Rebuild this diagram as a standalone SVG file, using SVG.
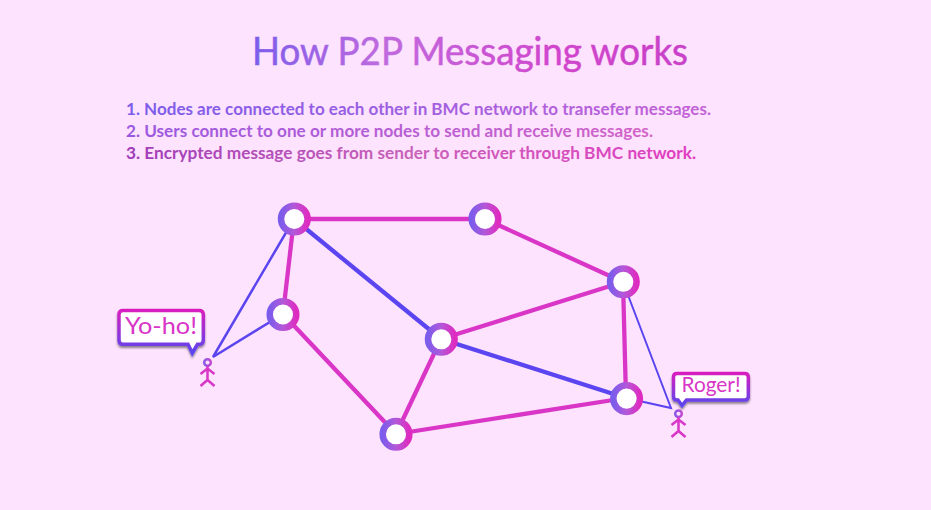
<svg xmlns="http://www.w3.org/2000/svg" width="931" height="510" viewBox="0 0 931 510">
<defs>
<linearGradient id="tg" x1="0" y1="0" x2="1" y2="0"><stop offset="0" stop-color="#7c5ceb"/><stop offset="0.3" stop-color="#c06ade"/><stop offset="0.7" stop-color="#d045cc"/><stop offset="1" stop-color="#c840c8"/></linearGradient>
<linearGradient id="l1" x1="0" y1="0" x2="1" y2="0"><stop offset="0" stop-color="#7c5ceb"/><stop offset="1" stop-color="#c462d6"/></linearGradient>
<linearGradient id="l2" x1="0" y1="0" x2="1" y2="0"><stop offset="0" stop-color="#9a58e0"/><stop offset="1" stop-color="#d264c8"/></linearGradient>
<linearGradient id="l3" x1="0" y1="0" x2="1" y2="0"><stop offset="0" stop-color="#a03cb8"/><stop offset="0.5" stop-color="#c862b8"/><stop offset="1" stop-color="#e03cc0"/></linearGradient>
<linearGradient id="ng"><stop offset="0" stop-color="#7c5ceb"/><stop offset="0.5" stop-color="#b358d8"/><stop offset="1" stop-color="#de2cc0"/></linearGradient>
<linearGradient id="bg" x1="0" y1="0" x2="0" y2="1"><stop offset="0" stop-color="#d81fc0"/><stop offset="1" stop-color="#5a45f0"/></linearGradient>
<linearGradient id="pg" x1="0" y1="0" x2="1" y2="0"><stop offset="0" stop-color="#8a5ae8"/><stop offset="1" stop-color="#c04ad0"/></linearGradient>
<filter id="sh" x="-20%" y="-20%" width="140%" height="150%"><feDropShadow dx="0" dy="2" stdDeviation="1.2" flood-color="#000" flood-opacity="0.45"/></filter>
</defs>
<style>
text{font-family:"Lato","Open Sans",sans-serif}
.t{font-size:38px;font-weight:400;fill:url(#tg);stroke:url(#tg);stroke-width:0.5}
.l{font-size:17px;font-weight:700}
.n{fill:#fff;stroke:url(#ng);stroke-width:6.500}
.p{stroke:#d936c8;fill:none}
.b{stroke:#5a45f0;fill:none}
.w4{stroke-width:4.300}
.bub{fill:#fff;stroke:url(#bg);stroke-width:3.500;filter:url(#sh)}
.s{fill:#d936c8;font-weight:400}
.fig{stroke:#d936c8;stroke-width:2.500;fill:none}
</style>
<rect width="931" height="510" fill="#fee3fe"/>
<text class="t" x="252" y="65" textLength="436" lengthAdjust="spacingAndGlyphs">How P2P Messaging works</text>
<g id="steps">
<text class="l" x="126" y="115" textLength="585" lengthAdjust="spacingAndGlyphs" fill="url(#l1)">1. Nodes are connected to each other in BMC network to transefer messages.</text>
<text class="l" x="126" y="137" textLength="527" lengthAdjust="spacingAndGlyphs" fill="url(#l2)">2. Users connect to one or more nodes to send and receive messages.</text>
<text class="l" x="126" y="159" textLength="570" lengthAdjust="spacingAndGlyphs" fill="url(#l3)">3. Encrypted message goes from sender to receiver through BMC network.</text>
</g>
<g id="connectors">
<line class="p w4" x1="294" y1="219" x2="485" y2="219"/>
<line class="p w4" x1="485" y1="219" x2="623" y2="282"/>
<line class="p w4" x1="294" y1="219" x2="283" y2="314"/>
<line class="b w4" x1="294" y1="219" x2="441" y2="339"/>
<line class="p w4" x1="283" y1="314" x2="396" y2="434"/>
<line class="p w4" x1="441" y1="339" x2="623" y2="282"/>
<line class="b w4" x1="441" y1="339" x2="626" y2="398"/>
<line class="p w4" x1="441" y1="339" x2="396" y2="434"/>
<line class="p w4" x1="623" y1="282" x2="626" y2="398"/>
<line class="p w4" x1="396" y1="434" x2="626" y2="398"/>
<polyline class="b" stroke-width="2.500" points="294,219 213,357 283,314"/>
<polyline class="b" stroke-width="2" points="623,282 671,408 626,398"/>
</g>
<g id="node1"><circle class="n" cx="294.300" cy="219" r="13.300"/></g>
<g id="node2"><circle class="n" cx="485" cy="219" r="13.300"/></g>
<g id="node3"><circle class="n" cx="623.300" cy="281.800" r="13.300"/></g>
<g id="node4"><circle class="n" cx="283" cy="314.500" r="13.300"/></g>
<g id="node5"><circle class="n" cx="441.300" cy="339.300" r="13.300"/></g>
<g id="node6"><circle class="n" cx="626.600" cy="398.600" r="13.300"/></g>
<g id="node7"><circle class="n" cx="396" cy="434.300" r="13.300"/></g>
<g id="user-yoho">
<path class="bub" d="M123,310.500H199Q203.300,310.500 203.300,314.500V340Q203.300,344.300 199,344.300H197.500L192.300,353L188,344.300H123Q119,344.300 119,340V314.500Q119,310.500 123,310.500Z"/>
<text class="s" x="125" y="334" textLength="72" lengthAdjust="spacingAndGlyphs" font-size="24">Yo-ho!</text>
<g class="fig"><circle cx="207.500" cy="362.500" r="3.300" stroke="url(#pg)"/><path d="M207.500,366V380M200.500,374L207.500,368.500L214.500,374M200.500,386L207.500,380L214.500,386"/></g>
</g>
<g id="user-roger">
<path class="bub" d="M677,373.500H744.500Q748.300,373.500 748.300,377V396.500Q748.300,400 744.500,400H686.500L682,405.500L678,400H677Q673.500,400 673.500,396.500V377Q673.500,373.500 677,373.500Z"/>
<text class="s" x="681.500" y="392" textLength="59" lengthAdjust="spacingAndGlyphs" font-size="22">Roger!</text>
<g class="fig"><circle cx="678.500" cy="413.700" r="3.300" stroke="url(#pg)"/><path d="M678.500,417V431M671.500,425L678.500,419.500L685.500,425M671.500,437L678.500,431L685.500,437"/></g>
</g>
</svg>
